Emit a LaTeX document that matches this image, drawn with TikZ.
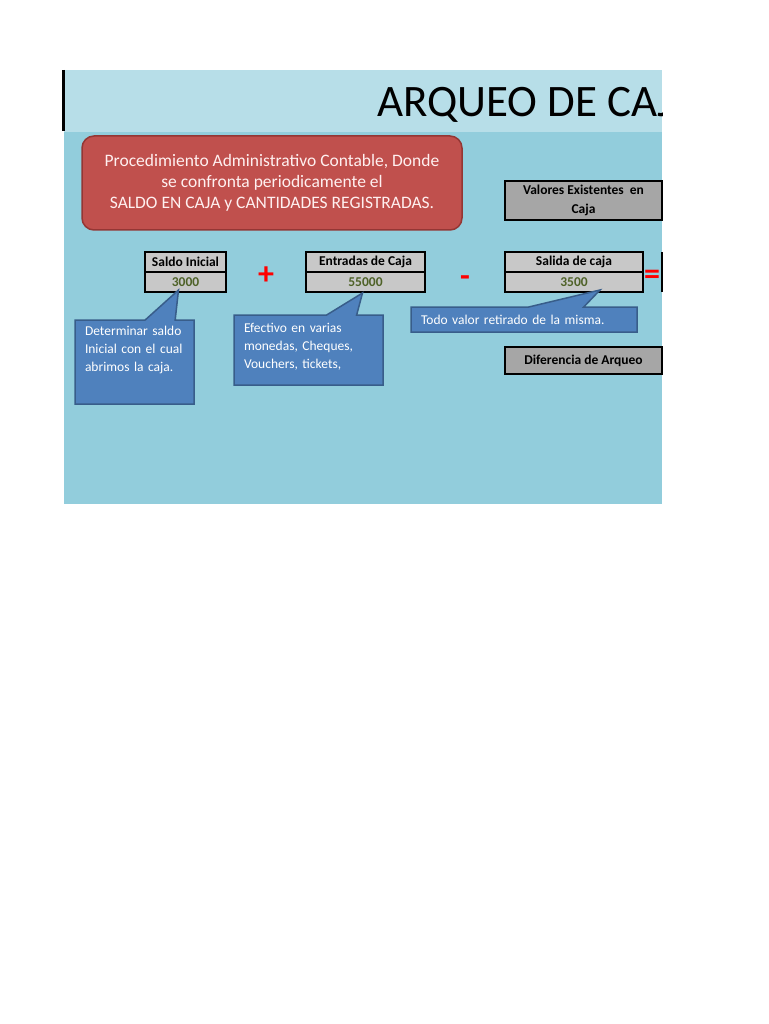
\documentclass[tikz,border=0pt]{standalone}
\usepackage{fontspec}
\setmainfont{Carlito}
\usetikzlibrary{positioning, calc, shapes.callouts}
\definecolor{headblue}{HTML}{B7DEE8}
\definecolor{panelblue}{HTML}{92CDDC}
\definecolor{notered}{HTML}{C0504D}
\definecolor{notereddark}{HTML}{943634}
\definecolor{callblue}{HTML}{4F81BD}
\definecolor{callbluedark}{HTML}{385D8A}
\definecolor{cellgray}{HTML}{C8C8C8}
\definecolor{totalgray}{HTML}{A6A6A6}
\definecolor{valolive}{HTML}{4F6228}

\begin{document}
\begin{tikzpicture}[x=1pt, y=-1pt,
    cellhead/.style={rectangle, draw=black, line width=1.5pt, fill=cellgray,
                     outer sep=0pt, minimum height=20pt, inner sep=1pt,
                     font=\fontsize{13.5}{15}\selectfont\bfseries},
    cellval/.style={cellhead, text=valolive},
    totalbox/.style={rectangle, draw=black, line width=1.5pt, fill=totalgray,
                     align=center, inner sep=1pt,
                     font=\fontsize{13.5}{19}\selectfont\bfseries},
    oper/.style={text=red, font=\fontsize{32}{32}\selectfont\bfseries,
                 inner sep=0pt, anchor=base},
    note/.style={rectangle callout, draw=callbluedark, line width=1.5pt,
                 fill=callblue, text=white, align=left, inner xsep=10pt,
                 inner ysep=4pt, font=\fontsize{13.5}{18}\selectfont,
                 callout pointer width=30pt},
]
\useasboundingbox (0,0) rectangle (768,1024);

%---------------------------------------------------------------
% Sheet background and title
%---------------------------------------------------------------
\fill[headblue] (64,70) rectangle (662,132);
\fill[panelblue] (64,132) rectangle (662,504);
\draw[line width=3pt] (63.5,70) -- (63.5,131);

\begin{scope}
    \clip (64,70) rectangle (662,132);
    \node[anchor=base west, inner sep=0pt, font=\fontsize{45}{45}\selectfont]
         (title) at (377,117) {ARQUEO DE CAJA};
\end{scope}

% Definition box
\node[rectangle, rounded corners=12pt, draw=notereddark, line width=1.5pt,
      fill=notered, text=white!94!red, minimum width=380pt,
      minimum height=94pt, align=center,
      font=\fontsize{17.5}{21}\selectfont]
     (defn) at (272,183)
     {Procedimiento Administrativo Contable, Donde\\
      se confronta periodicamente el\\
      SALDO EN CAJA y CANTIDADES REGISTRADAS.};

\node[totalbox, minimum width=157pt, minimum height=39pt]
     (valores) at (583.5,200.5) {Valores Existentes~ en\\Caja};

%---------------------------------------------------------------
% Formula row: saldo + entradas - salida =
%---------------------------------------------------------------
\node[cellhead, minimum width=81pt] (saldoHead) at (185.5,262) {Saldo Inicial};
\node[cellval, minimum width=81pt, below=0pt of saldoHead] (saldoVal) {3000};

\node[oper] (plus) at (266,284) {+};

\node[cellhead, minimum width=119pt] (entradasHead) at (365.5,262)
     {Entradas de Caja};
\node[cellval, minimum width=119pt, below=0pt of entradasHead] (entradasVal)
     {55000};

\node[oper] (minus) at (465,286) {-};

\node[cellhead, minimum width=138pt] (salidaHead) at (574,262)
     {Salida de caja};
\node[cellval, minimum width=138pt, below=0pt of salidaHead] (salidaVal)
     {3500};

\node[oper] (equal) at (652,284) {=};
\draw[line width=2pt] (662,252) -- (662,292);

%---------------------------------------------------------------
% Callouts
%---------------------------------------------------------------
\node[note, minimum width=119pt, minimum height=84pt, text width=99pt,
      text depth=63pt,
      callout absolute pointer={($(saldoVal.south)+(-7,-2)$)}]
     (noteSaldo) at (134.5,362)
     {Determinar saldo\\Inicial con el cual\\abrimos la caja.};

\node[note, minimum width=149pt, minimum height=70pt, text width=129pt,
      text depth=45pt,
      callout absolute pointer={($(entradasVal.south)+(-3,1)$)}]
     (noteEntradas) at (308.5,350)
     {Efectivo en varias\\monedas, Cheques,\\Vouchers, tickets,};

\node[note, minimum width=226pt, minimum height=25pt, text width=206pt,
      callout pointer width=55pt,
      callout absolute pointer={($(salidaVal.south)+(26,-2)$)}]
     (noteSalida) at (524,319.5)
     {Todo valor retirado de la misma.};

\node[totalbox, minimum width=157pt, minimum height=27pt]
     (diferencia) at (583.5,360.5) {Diferencia de Arqueo};

\end{tikzpicture}
\end{document}
